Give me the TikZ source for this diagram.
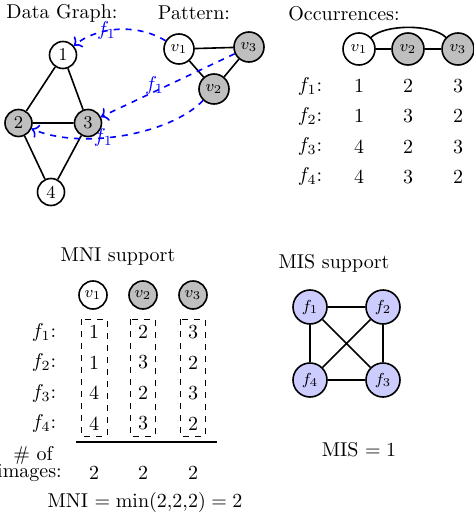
\documentclass[tikz,border=0pt]{standalone}
\usetikzlibrary{arrows.meta}

\tikzset{
  vtx/.style={circle, draw, line width=0.8pt, minimum size=13.5pt, inner sep=0pt, font=\small},
  patvtx/.style={vtx, minimum size=15pt, font=\footnotesize},
  mnivtx/.style={vtx, minimum size=14pt, font=\footnotesize},
  misvtx/.style={vtx, fill=blue!20, minimum size=17pt, font=\footnotesize},
  grey/.style={fill=black!25},
  edge/.style={line width=0.8pt},
  fmap/.style={blue, dashed, line width=0.8pt, ->},
  lbl/.style={inner sep=1pt},
}

\begin{document}
\begin{tikzpicture}[x=0.5pt, y=-0.5pt]
    \useasboundingbox (0,0) rectangle (474,514);

    % Data graph
    \node (tdata) at (62,13) {Data Graph:};
    \node[vtx] (d1) at (63,55) {1};
    \node[vtx, grey] (d2) at (18.5,123) {2};
    \node[vtx, grey] (d3) at (88,123) {3};
    \node[vtx] (d4) at (51,192) {4};
    \draw[edge] (d1) -- (d2) (d1) -- (d3) (d2) -- (d3) (d2) -- (d4) (d3) -- (d4);

    % Pattern
    \node (tpat) at (194,13) {Pattern:};
    \node[patvtx] (p1) at (179,49) {$v_1$};
    \node[patvtx, grey] (p2) at (214,89) {$v_2$};
    \node[patvtx, grey] (p3) at (249,47) {$v_3$};
    \draw[edge] (p1) -- (p3) (p1) -- (p2) (p2) -- (p3);

    % The mapping f_1 from the pattern into the data graph
    \draw[fmap] (p1) .. controls (135,22) and (95,28) .. node[lbl, pos=0.6] {$f_1$} (d1);
    \draw[fmap] (p3) -- node[lbl, pos=0.6, above=-3pt] {$f_1$} (d3);
    \draw[fmap] (p2) .. controls (170,135) and (80,150) .. node[lbl, pos=0.6] {$f_1$} (d2);

    % Occurrences
    \node (tocc) at (344,14) {Occurrences:};
    \node[patvtx, minimum size=16pt] (o1) at (359,49) {$v_1$};
    \node[patvtx, minimum size=16pt, grey] (o2) at (408,49) {$v_2$};
    \node[patvtx, minimum size=16pt, grey] (o3) at (458,49) {$v_3$};
    \draw[edge] (o1) -- (o2) (o2) -- (o3);
    \draw[edge] (o1) .. controls (385,24) and (432,24) .. (o3);
    \foreach \i/\a/\b/\c in {1/1/2/3, 2/1/3/2, 3/4/2/3, 4/4/3/2} {
      \node (of\i) at (310,86+30.3*\i-30.3) {$f_{\i}$:};
      \node (oa\i) at (359,86+30.3*\i-30.3) {\a};
      \node (ob\i) at (408,86+30.3*\i-30.3) {\b};
      \node (oc\i) at (458,86+30.3*\i-30.3) {\c};
    }

    % MNI support
    \node (tmni) at (118,257) {MNI support};
    \node[mnivtx] (m1) at (93,295) {$v_1$};
    \node[mnivtx, grey] (m2) at (143,295) {$v_2$};
    \node[mnivtx, grey] (m3) at (193,295) {$v_3$};
    \foreach \i/\a/\b/\c in {1/1/2/3, 2/1/3/2, 3/4/2/3, 4/4/3/2} {
      \node (mf\i) at (44,332+30.5*\i-30.5) {$f_{\i}$:};
      \node (ma\i) at (94,332+30.5*\i-30.5) {\a};
      \node (mb\i) at (143,332+30.5*\i-30.5) {\b};
      \node (mc\i) at (193,332+30.5*\i-30.5) {\c};
    }
    \draw[dashed] (81,319) rectangle (107,436);
    \draw[dashed] (130,319) rectangle (155,436);
    \draw[dashed] (180,319) rectangle (205,436);
    \draw[edge] (76,442) -- (217,442);
    \node (tnum) at (33,455) {\# of};
    \node (timg) at (29.5,473) {images:};
    \node (na) at (94,473) {2};
    \node (nb) at (143,473) {2};
    \node (nc) at (193,473) {2};
    \node (tmnieq) at (145,502) {MNI $=\min(2{,}2{,}2)=2$};

    % MIS support
    \node (tmis) at (334,263) {MIS support};
    \node[misvtx] (s1) at (310,307) {$f_1$};
    \node[misvtx] (s2) at (383,307) {$f_2$};
    \node[misvtx] (s3) at (383,380) {$f_3$};
    \node[misvtx] (s4) at (310,380) {$f_4$};
    \draw[edge] (s1) -- (s2) (s2) -- (s3) (s3) -- (s4) (s4) -- (s1) (s1) -- (s3) (s2) -- (s4);
    \node (tmiseq) at (359,450) {MIS $=1$};
\end{tikzpicture}
\end{document}
